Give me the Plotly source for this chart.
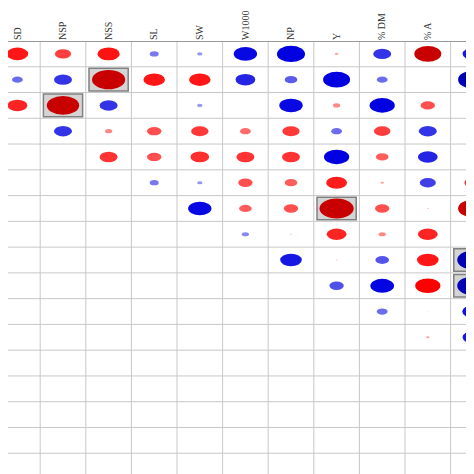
import plotly.graph_objects as go

cols = ["SD", "NSP", "NSS", "SL", "SW", "W1000", "NP", "Y", "% DM", "% A", "% O"]
n_rows = 17

# correlation values per row (None = empty cell)
r1 = [0.6, 0.45, 0.62, -0.25, -0.15, -0.65, -0.78, 0.1, -0.5, 0.75, -0.6]
r2 = [-0.3, -0.5, 0.92, 0.6, 0.6, -0.55, -0.35, -0.75, -0.3, 0.02, -0.85]
r3 = [0.55, 0.9, -0.5, None, -0.15, None, -0.65, 0.2, -0.7, 0.4, -0.15]
r4 = [None, -0.5, 0.2, 0.4, 0.48, 0.3, 0.48, -0.3, 0.46, -0.5, 0.1]
r5 = [None, None, 0.5, 0.4, 0.52, 0.5, 0.5, -0.7, 0.35, -0.55, 0.06]
r6 = [None, None, None, -0.25, -0.15, 0.4, 0.35, 0.58, 0.1, -0.45, 0.5]
r7 = [None, None, None, None, -0.65, 0.35, 0.4, 0.95, 0.4, 0.05, 0.85]
r8 = [None, None, None, None, None, -0.2, 0.05, 0.55, 0.2, 0.55, 0.1]
r9 = [None, None, None, None, None, None, -0.6, 0.05, -0.38, 0.6, -0.9]
r10 = [None, None, None, None, None, None, None, -0.4, -0.66, 0.7, -0.9]
r11 = [None, None, None, None, None, None, None, None, -0.3, 0.03, -0.62]
r12 = [None, None, None, None, None, None, None, None, None, 0.1, -0.6]
r13 = [None, None, None, None, None, None, None, None, None, None, 0.4]
rows = [r1, r2, r3, r4, r5, r6, r7, r8, r9, r10, r11, r12, r13]

# highlighted cells (row, col)
boxes = [(1, 2), (2, 1), (6, 7), (8, 10), (9, 10)]

col_px = 45.6
row_px = 438 / n_rows


def colour(r):
    a = abs(r)
    if r > 0:
        base = (200, 0, 0) if a > 0.7 else (255, 0, 0)
    else:
        base = (0, 0, 180) if a > 0.82 else (0, 0, 225)
    alpha = min(1.0, 0.25 + 1.1 * a)
    return "rgba(%d,%d,%d,%.2f)" % (base + (alpha,))


fig = go.Figure()
shapes = []

# grid
for i in range(len(cols) + 1):
    shapes.append(dict(type="line", x0=i - 0.5, x1=i - 0.5, y0=-0.5, y1=n_rows - 0.5,
                       line=dict(color="#c8c8c8", width=1), layer="below"))
for j in range(n_rows + 1):
    shapes.append(dict(type="line", x0=-1, x1=len(cols), y0=j - 0.5, y1=j - 0.5,
                       line=dict(color="#c8c8c8", width=1), layer="below"))
shapes.append(dict(type="line", x0=-1, x1=len(cols), y0=-0.5, y1=-0.5,
                   line=dict(color="#999999", width=2)))
shapes.append(dict(type="line", x0=-1, x1=len(cols), y0=n_rows - 0.5, y1=n_rows - 0.5,
                   line=dict(color="#999999", width=2)))

for (ri, ci) in boxes:
    shapes.append(dict(type="rect", x0=ci - 0.43, x1=ci + 0.43, y0=ri - 0.44, y1=ri + 0.44,
                       fillcolor="#d4d4d4", line=dict(color="#808080", width=1.5)))

for ri, row in enumerate(rows):
    for ci, r in enumerate(row):
        if r is None:
            continue
        w = abs(r) * 36 / col_px / 2
        h = abs(r) * 36 * 0.58 / row_px / 2
        shapes.append(dict(type="circle", x0=ci - w, x1=ci + w, y0=ri - h, y1=ri + h,
                           fillcolor=colour(r), line=dict(width=0)))

fig.add_trace(go.Scatter(x=[0], y=[0], mode="markers", marker=dict(opacity=0),
                         hoverinfo="skip", showlegend=False))

fig.update_layout(
    width=474, height=474,
    margin=dict(l=0, r=0, t=33, b=3),
    plot_bgcolor="white", paper_bgcolor="white",
    shapes=shapes,
    showlegend=False,
    xaxis=dict(range=[-9.4 / col_px, (474 - 9.4) / col_px], side="top",
               tickvals=list(range(len(cols))), ticktext=cols, tickangle=-90,
               showgrid=False, zeroline=False, ticks="", automargin=False,
               tickfont=dict(family="Liberation Serif", size=10, color="#333")),
    yaxis=dict(range=[n_rows - 0.5, -0.5], showticklabels=False, automargin=False,
               showgrid=False, zeroline=False),
)

fig.write_html("out.html")
